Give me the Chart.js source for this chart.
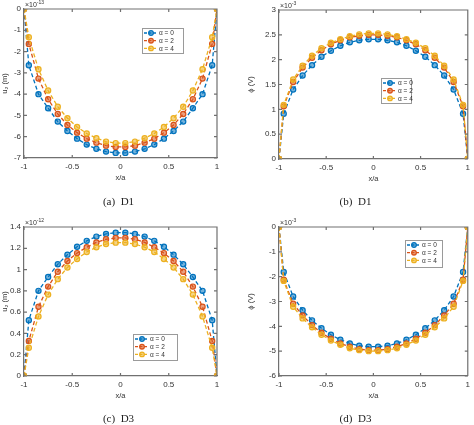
<!DOCTYPE html>
<html>
<head>
<meta charset="utf-8">
<script src="https://cdn.jsdelivr.net/npm/chart.js@4.4.0/dist/chart.umd.min.js"></script>
<style>
  body { margin: 0; background: #fff; width: 474px; height: 425px; position: relative; overflow: hidden; }
  canvas { position: absolute; }
  .cap { position: absolute; width: 237px; text-align: center; font: 11px "Liberation Serif", serif; color: #222; }
</style>
</head>
<body>
<canvas id="ca" width="237" height="212" style="left:0;top:0"></canvas>
<canvas id="cb" width="237" height="212" style="left:237px;top:0"></canvas>
<canvas id="cc" width="237" height="213" style="left:0;top:212px"></canvas>
<canvas id="cd" width="237" height="213" style="left:237px;top:212px"></canvas>
<div class="cap" style="left:0;top:195px">(a)&nbsp; D1</div>
<div class="cap" style="left:237px;top:195px">(b)&nbsp; D1</div>
<div class="cap" style="left:0;top:412px">(c)&nbsp; D3</div>
<div class="cap" style="left:237px;top:412px">(d)&nbsp; D3</div>
<script>
// abscisses x/a
const xs = [-1, -0.95, -0.85, -0.75, -0.65, -0.55, -0.45, -0.35, -0.25, -0.15, -0.05,
            0.05, 0.15, 0.25, 0.35, 0.45, 0.55, 0.65, 0.75, 0.85, 0.95, 1];
const alphaLabels = ['α = 0', 'α = 2', 'α = 4'];

// (a) D1, u2 (x1e-13 m)
const u2D1a0 = [0, -2.64, -4.00, -4.66, -5.29, -5.73, -6.09, -6.37, -6.57, -6.70, -6.76, -6.76, -6.70, -6.57, -6.37, -6.09, -5.73, -5.29, -4.66, -4.00, -2.64, 0];
const u2D1a2 = [0, -1.64, -3.27, -4.24, -4.93, -5.45, -5.81, -6.09, -6.28, -6.42, -6.48, -6.48, -6.42, -6.28, -6.09, -5.81, -5.45, -4.93, -4.24, -3.27, -1.64, 0];
const u2D1a4 = [0, -1.33, -2.83, -3.83, -4.59, -5.13, -5.54, -5.85, -6.07, -6.23, -6.30, -6.30, -6.23, -6.07, -5.85, -5.54, -5.13, -4.59, -3.83, -2.83, -1.33, 0];
// (b) D1, phi (x1e-3 V)
const phiD1a0 = [0, 0.91, 1.40, 1.68, 1.89, 2.06, 2.18, 2.28, 2.35, 2.39, 2.41, 2.41, 2.39, 2.35, 2.28, 2.18, 2.06, 1.89, 1.68, 1.40, 0.91, 0];
const phiD1a2 = [0, 1.06, 1.55, 1.84, 2.04, 2.19, 2.31, 2.39, 2.45, 2.48, 2.50, 2.50, 2.48, 2.45, 2.39, 2.31, 2.19, 2.04, 1.84, 1.55, 1.06, 0];
const phiD1a4 = [0, 1.09, 1.60, 1.88, 2.08, 2.23, 2.34, 2.41, 2.47, 2.51, 2.53, 2.53, 2.51, 2.47, 2.41, 2.34, 2.23, 2.08, 1.88, 1.60, 1.09, 0];
// (c) D3, u2 (x1e-12 m)
const u2D3a0 = [0, 0.525, 0.80, 0.93, 1.05, 1.14, 1.215, 1.27, 1.31, 1.335, 1.347, 1.347, 1.335, 1.31, 1.27, 1.215, 1.14, 1.05, 0.93, 0.80, 0.525, 0];
const u2D3a2 = [0, 0.33, 0.65, 0.84, 0.98, 1.08, 1.155, 1.21, 1.255, 1.285, 1.297, 1.297, 1.285, 1.255, 1.21, 1.155, 1.08, 0.98, 0.84, 0.65, 0.33, 0];
const u2D3a4 = [0, 0.265, 0.56, 0.765, 0.91, 1.02, 1.10, 1.165, 1.21, 1.24, 1.253, 1.253, 1.24, 1.21, 1.165, 1.10, 1.02, 0.91, 0.765, 0.56, 0.265, 0];
// (d) D3, phi (x1e-3 V)
const phiD3a0 = [0, -1.81, -2.80, -3.35, -3.76, -4.08, -4.34, -4.54, -4.69, -4.78, -4.82, -4.82, -4.78, -4.69, -4.54, -4.34, -4.08, -3.76, -3.35, -2.80, -1.81, 0];
const phiD3a2 = [0, -2.12, -3.09, -3.56, -3.95, -4.26, -4.50, -4.69, -4.82, -4.92, -4.96, -4.96, -4.92, -4.82, -4.69, -4.50, -4.26, -3.95, -3.56, -3.09, -2.12, 0];
const phiD3a4 = [0, -2.17, -3.21, -3.68, -4.04, -4.34, -4.57, -4.74, -4.88, -4.96, -5.00, -5.00, -4.96, -4.88, -4.74, -4.57, -4.34, -4.04, -3.68, -3.21, -2.17, 0];

const colors = ['#0072BD', '#D95319', '#EDB120'];
const fillColors = ['rgba(0,114,189,0.55)', 'rgba(217,83,25,0.55)', 'rgba(237,177,32,0.55)'];
const txt = '#333';
const frameColor = '#707070';
const tickFont = { family: 'Liberation Sans, Arial, sans-serif', size: 8 };
const titleFont = { family: 'Liberation Sans, Arial, sans-serif', size: 7.5 };
const fmt = v => String(+Number(v).toFixed(2));

// bords haut/droite + graduations vers l'intérieur + facteur x10^n + légende
const framePlugin = {
    id: 'frame',
    afterDraw(chart) {
        const ctx = chart.ctx;
        const sx = chart.scales.x, sy = chart.scales.y;
        const o = chart.options.plugins.frame;
        const L0 = sx.left, R0 = sx.right, T0 = sy.top, B0 = sy.bottom;
        ctx.save();
        ctx.setLineDash([]);
        ctx.strokeStyle = frameColor;
        ctx.lineWidth = 1.2;
        ctx.beginPath();
        ctx.moveTo(L0, T0); ctx.lineTo(R0, T0); ctx.lineTo(R0, B0);
        sx.ticks.forEach(t => {
            const p = sx.getPixelForValue(t.value);
            ctx.moveTo(p, B0); ctx.lineTo(p, B0 - 3);
            ctx.moveTo(p, T0); ctx.lineTo(p, T0 + 3);
        });
        sy.ticks.forEach(t => {
            const p = sy.getPixelForValue(t.value);
            ctx.moveTo(L0, p); ctx.lineTo(L0 + 3, p);
            ctx.moveTo(R0, p); ctx.lineTo(R0 - 3, p);
        });
        ctx.stroke();

        // facteur d'échelle
        ctx.fillStyle = txt;
        ctx.textBaseline = 'alphabetic';
        ctx.textAlign = 'left';
        ctx.font = '7px "Liberation Sans", Arial, sans-serif';
        ctx.fillText('×10', L0 + 1, T0 - 2);
        const w = ctx.measureText('×10').width;
        ctx.font = '5px "Liberation Sans", Arial, sans-serif';
        ctx.fillText(o.exp, L0 + 1 + w, T0 - 5);

        // légende
        const L = o.legend;
        ctx.fillStyle = '#fff';
        ctx.fillRect(L.x, L.y, L.w, L.h);
        ctx.strokeStyle = '#9a9a9a';
        ctx.lineWidth = 1;
        ctx.strokeRect(L.x + 0.5, L.y + 0.5, L.w, L.h);
        chart.data.datasets.forEach((ds, i) => {
            const y = L.y + 5 + i * 7.7;
            ctx.strokeStyle = ds.borderColor;
            ctx.lineWidth = 1.3;
            ctx.setLineDash([3, 1.5]);
            ctx.beginPath();
            ctx.moveTo(L.x + 2, y); ctx.lineTo(L.x + 14, y);
            ctx.stroke();
            ctx.setLineDash([]);
            ctx.beginPath();
            ctx.arc(L.x + 9, y, 2.3, 0, Math.PI * 2);
            ctx.fillStyle = ds.backgroundColor;
            ctx.fill();
            ctx.stroke();
            ctx.fillStyle = txt;
            ctx.font = '6.5px "Liberation Sans", Arial, sans-serif';
            ctx.textBaseline = 'middle';
            ctx.fillText(ds.label, L.x + 17, y + 0.5);
        });
        ctx.restore();
    }
};

function makeChart(id, series, o) {
    const datasets = series.map((arr, i) => ({
        label: alphaLabels[i],
        data: xs.map((x, k) => ({ x: x, y: arr[k] })),
        borderColor: colors[i],
        backgroundColor: fillColors[i],
        borderWidth: 1.3,
        borderDash: [4, 2.5],
        pointRadius: 2.6,
        pointBorderWidth: 1.2,
        pointBorderColor: colors[i],
        pointBackgroundColor: fillColors[i],
        tension: 0,
        order: 2 - i
    }));
    return new Chart(document.getElementById(id), {
        type: 'line',
        data: { datasets },
        options: {
            responsive: false,
            animation: false,
            layout: { padding: o.pad },
            plugins: {
                legend: { display: false },
                tooltip: { enabled: false },
                frame: { exp: o.exp, legend: o.legend }
            },
            scales: {
                x: {
                    type: 'linear', min: -1, max: 1,
                    grid: { display: false, drawTicks: false },
                    border: { display: true, color: frameColor, width: 1.2 },
                    ticks: { stepSize: 0.5, font: tickFont, color: txt, padding: 4, maxRotation: 0, callback: fmt },
                    title: { display: true, text: 'x/a', font: titleFont, color: txt, padding: 0 },
                    afterFit: s => { s.height = o.xh; }
                },
                y: {
                    min: o.ymin, max: o.ymax,
                    grid: { display: false, drawTicks: false },
                    border: { display: true, color: frameColor, width: 1.2 },
                    ticks: { stepSize: o.step, font: tickFont, color: txt, padding: 3, callback: fmt },
                    title: { display: true, text: o.ytitle, font: titleFont, color: txt, padding: 0 },
                    afterFit: s => { s.width = o.yw; }
                }
            }
        },
        plugins: [framePlugin]
    });
}

makeChart('ca', [u2D1a0, u2D1a2, u2D1a4], {
    pad: { left: 0, right: 20, top: 9, bottom: 30 }, yw: 24, xh: 24,
    ymin: -7, ymax: 0, step: 1, ytitle: 'u₂ (m)', exp: '-13',
    legend: { x: 142, y: 28, w: 41, h: 25 }
});
makeChart('cb', [phiD1a0, phiD1a2, phiD1a4], {
    pad: { left: 9, right: 5, top: 10, bottom: 29 }, yw: 33, xh: 24,
    ymin: 0, ymax: 3, step: 0.5, ytitle: 'ϕ (V)', exp: '-3',
    legend: { x: 144, y: 78, w: 30, h: 25 }
});
makeChart('cc', [u2D3a0, u2D3a2, u2D3a4], {
    pad: { left: 0, right: 20, top: 15, bottom: 25 }, yw: 24, xh: 24,
    ymin: 0, ymax: 1.4, step: 0.2, ytitle: 'u₂ (m)', exp: '-12',
    legend: { x: 133, y: 122, w: 44, h: 26 }
});
makeChart('cd', [phiD3a0, phiD3a2, phiD3a4], {
    pad: { left: 9, right: 4, top: 15, bottom: 25 }, yw: 33, xh: 24,
    ymin: -6, ymax: 0, step: 1, ytitle: 'ϕ (V)', exp: '-3',
    legend: { x: 168, y: 28, w: 37, h: 27 }
});
</script>
</body>
</html>
